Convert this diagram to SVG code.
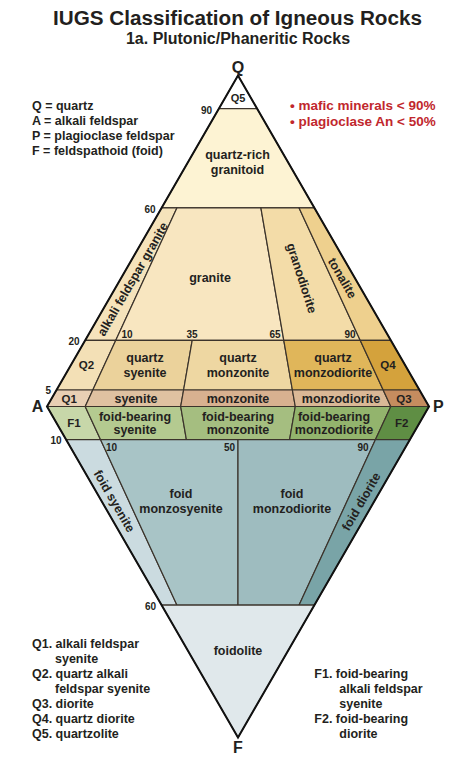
<svg xmlns="http://www.w3.org/2000/svg" width="474" height="760" viewBox="0 0 474 760">
<style>
text{font-family:"Liberation Sans",Arial,Helvetica,sans-serif;font-weight:bold;fill:#231f20}
.t{font-size:20.7px;text-anchor:middle}
.st{font-size:16px;text-anchor:middle}
.v{font-size:16px}
.lg{font-size:12.5px}
.red{fill:#c1272d;font-size:13.5px}
.n{font-size:10px}
.ne{font-size:10px;text-anchor:end}
.nm{font-size:10px;text-anchor:middle}
.r{font-size:12.5px;text-anchor:middle}
.q{font-size:11.5px;text-anchor:middle}
.reg{stroke:#3b332b;stroke-width:1.2;stroke-linejoin:round}
.outline{fill:none;stroke:#111;stroke-width:2;stroke-linejoin:miter}
</style>
<rect width="474" height="760" fill="#ffffff"/>

<g id="title">
<text class="t" x="237.5" y="25">IUGS Classification of Igneous Rocks</text>
<text class="st" x="238" y="43.5">1a. Plutonic/Phaneritic Rocks</text>
</g>

<g id="legend-top">
<text class="lg" x="32" y="109.5">Q = quartz</text>
<text class="lg" x="32" y="124.8">A = alkali feldspar</text>
<text class="lg" x="32" y="140.1">P = plagioclase feldspar</text>
<text class="lg" x="32" y="155.4">F = feldspathoid (foid)</text>
</g>
<g id="conditions">
<text class="red" x="290" y="110">• mafic minerals &lt; 90%</text>
<text class="red" x="290" y="125.5">• plagioclase An &lt; 50%</text>
</g>

<g id="Q5"><polygon class="reg" fill="#ffffff" points="238,75.5 257.1,108.6 218.9,108.6"/><text class="q" x="238" y="101.5" style="font-size:11px">Q5</text></g>
<g id="quartz-rich-granitoid"><polygon class="reg" fill="#fdf3d3" points="218.9,108.6 257.1,108.6 314.4,207.9 161.6,207.9"/><text class="r" x="237.5" y="158.5">quartz-rich</text><text class="r" x="237.5" y="173.5">granitoid</text></g>
<g id="alkali-feldspar-granite"><polygon class="reg" fill="#f5e3bb" points="161.6,207.9 176.9,207.9 115.8,340.3 85.2,340.3"/><text class="r" transform="translate(132.5,279) rotate(-60)" y="4.5">alkali feldspar granite</text></g>
<g id="granite"><polygon class="reg" fill="#f8e6c0" points="176.9,207.9 260.9,207.9 283.8,340.3 115.8,340.3"/><text class="r" x="210" y="282">granite</text></g>
<g id="granodiorite"><polygon class="reg" fill="#f3dca8" points="260.9,207.9 299.1,207.9 360.2,340.3 283.8,340.3"/><text class="r" transform="translate(302,278) rotate(72)" y="4.5">granodiorite</text></g>
<g id="tonalite"><polygon class="reg" fill="#eed08e" points="299.1,207.9 314.4,207.9 390.8,340.3 360.2,340.3"/><text class="r" transform="translate(342.5,278) rotate(60)" y="4.5">tonalite</text></g>

<g id="Q2"><polygon class="reg" fill="#f3e0b6" points="85.2,340.3 115.8,340.3 92.8,390 56.6,390"/><text class="q" x="86.5" y="369">Q2</text></g>
<g id="quartz-syenite"><polygon class="reg" fill="#ebd29b" points="115.8,340.3 192.2,340.3 183.6,390 92.8,390"/><text class="r" x="145" y="361.5">quartz</text><text class="r" x="145" y="376.5">syenite</text></g>
<g id="quartz-monzonite"><polygon class="reg" fill="#eed7a2" points="192.2,340.3 283.8,340.3 292.4,390 183.6,390"/><text class="r" x="238" y="361.5">quartz</text><text class="r" x="238" y="376.5">monzonite</text></g>
<g id="quartz-monzodiorite"><polygon class="reg" fill="#e0b65a" points="283.8,340.3 360.2,340.3 383.2,390 292.4,390"/><text class="r" x="333" y="361.5">quartz</text><text class="r" x="333" y="376.5">monzodiorite</text></g>
<g id="Q4"><polygon class="reg" fill="#d4a23c" points="360.2,340.3 390.8,340.3 419.4,390 383.2,390"/><text class="q" x="388" y="369">Q4</text></g>

<g id="Q1"><polygon class="reg" fill="#e8cfb4" points="56.6,390 92.8,390 85.2,406.5 47,406.5"/><text class="q" x="69.2" y="402.5">Q1</text></g>
<g id="syenite"><polygon class="reg" fill="#dfc1a1" points="92.8,390 183.6,390 180.7,406.5 85.2,406.5"/><text class="r" x="136" y="402.5">syenite</text></g>
<g id="monzonite"><polygon class="reg" fill="#d8b190" points="183.6,390 292.4,390 295.3,406.5 180.7,406.5"/><text class="r" x="238" y="402.5">monzonite</text></g>
<g id="monzodiorite"><polygon class="reg" fill="#dab896" points="292.4,390 383.2,390 390.8,406.5 295.3,406.5"/><text class="r" x="341" y="402.5">monzodiorite</text></g>
<g id="Q3"><polygon class="reg" fill="#c58c5f" points="383.2,390 419.4,390 429,406.5 390.8,406.5"/><text class="q" x="404" y="402.5">Q3</text></g>

<g id="F1"><polygon class="reg" fill="#c7d7a9" points="47,406.5 85.2,406.5 100.5,439.6 66.1,439.6"/><text class="q" x="74" y="427">F1</text></g>
<g id="foid-bearing-syenite"><polygon class="reg" fill="#b4ca90" points="85.2,406.5 180.7,406.5 186.4,439.6 100.5,439.6"/><text class="r" x="135" y="420.5">foid-bearing</text><text class="r" x="135" y="434">syenite</text></g>
<g id="foid-bearing-monzonite"><polygon class="reg" fill="#a5be80" points="180.7,406.5 295.3,406.5 289.6,439.6 186.4,439.6"/><text class="r" x="238" y="420.5">foid-bearing</text><text class="r" x="238" y="434">monzonite</text></g>
<g id="foid-bearing-monzodiorite"><polygon class="reg" fill="#93b46d" points="295.3,406.5 390.8,406.5 375.5,439.6 289.6,439.6"/><text class="r" x="334" y="420.5">foid-bearing</text><text class="r" x="334" y="434">monzodiorite</text></g>
<g id="F2"><polygon class="reg" fill="#5f8e44" points="390.8,406.5 429,406.5 409.9,439.6 375.5,439.6"/><text class="q" x="401.7" y="427">F2</text></g>

<g id="foid-syenite"><polygon class="reg" fill="#cbdbe0" points="66.1,439.6 100.5,439.6 176.9,605.1 161.6,605.1"/><text class="r" transform="translate(114.5,501) rotate(60)" y="4.5">foid syenite</text></g>
<g id="foid-monzosyenite"><polygon class="reg" fill="#a8c4c6" points="100.5,439.6 238,439.6 238,605.1 176.9,605.1"/><text class="r" x="181" y="498.3">foid</text><text class="r" x="181" y="513">monzosyenite</text></g>
<g id="foid-monzodiorite"><polygon class="reg" fill="#9ebcbf" points="238,439.6 375.5,439.6 299.1,605.1 238,605.1"/><text class="r" x="292" y="498.3">foid</text><text class="r" x="292" y="513">monzodiorite</text></g>
<g id="foid-diorite"><polygon class="reg" fill="#79a4a7" points="375.5,439.6 409.9,439.6 314.4,605.1 299.1,605.1"/><text class="r" transform="translate(361,501.5) rotate(-60)" y="4.5">foid diorite</text></g>
<g id="foidolite"><polygon class="reg" fill="#e0e8eb" points="161.6,605.1 314.4,605.1 238,737.5"/><text class="r" x="238" y="655">foidolite</text></g>

<g id="connectors">
<polygon class="outline" points="238,75.5 429,406.5 238,737.5 47,406.5"/>
</g>

<g id="vertex-labels">
<text class="v" x="238" y="73" text-anchor="middle">Q</text>
<text class="v" x="37.5" y="412" text-anchor="middle">A</text>
<text class="v" x="433" y="411.5">P</text>
<text class="v" x="238" y="753" text-anchor="middle">F</text>
</g>

<g id="scale-numbers">
<text class="ne" x="212" y="113.5">90</text>
<text class="ne" x="155.5" y="212.5">60</text>
<text class="ne" x="79.5" y="344.5">20</text>
<text class="ne" x="51" y="394">5</text>
<text class="ne" x="61.5" y="443.5">10</text>
<text class="ne" x="156" y="609.5">60</text>
<text class="n" x="121.5" y="337.5">10</text>
<text class="nm" x="192" y="338">35</text>
<text class="ne" x="280.5" y="337.5">65</text>
<text class="ne" x="355.5" y="337.5">90</text>
<text class="n" x="106" y="450.5">10</text>
<text class="ne" x="235" y="450.5">50</text>
<text class="ne" x="368.5" y="450.5">90</text>
</g>

<g id="legend-bottom-left">
<text class="lg" x="32" y="648">Q1. alkali feldspar</text>
<text class="lg" x="55" y="663">syenite</text>
<text class="lg" x="32" y="678">Q2. quartz alkali</text>
<text class="lg" x="55" y="693">feldspar syenite</text>
<text class="lg" x="32" y="708">Q3. diorite</text>
<text class="lg" x="32" y="723">Q4. quartz diorite</text>
<text class="lg" x="32" y="738">Q5. quartzolite</text>
</g>
<g id="legend-bottom-right">
<text class="lg" x="314.3" y="677.5">F1. foid-bearing</text>
<text class="lg" x="339.3" y="692.7">alkali feldspar</text>
<text class="lg" x="339.3" y="708">syenite</text>
<text class="lg" x="314.3" y="723">F2. foid-bearing</text>
<text class="lg" x="339.3" y="738">diorite</text>
</g>
</svg>
